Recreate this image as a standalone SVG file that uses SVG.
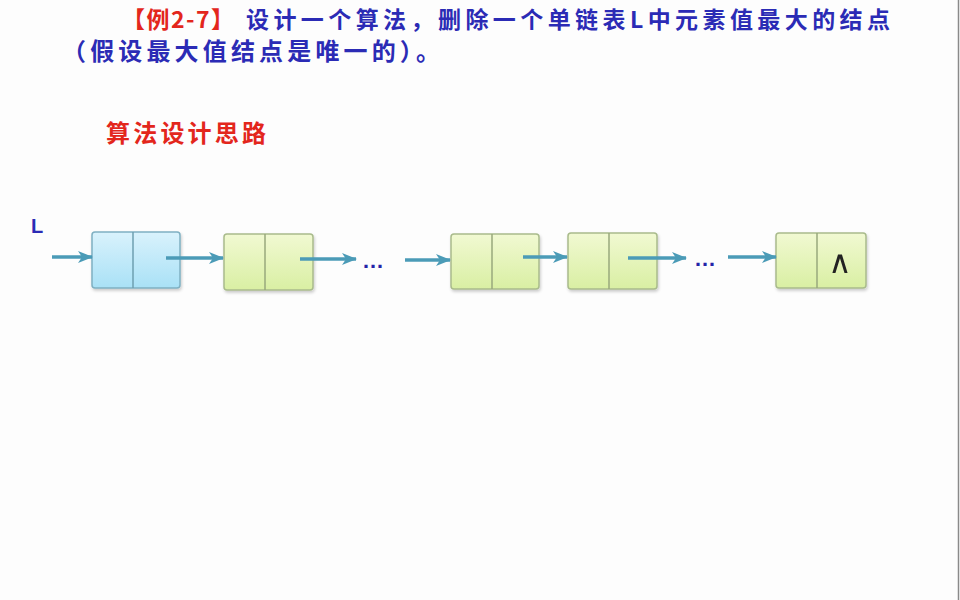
<svg xmlns="http://www.w3.org/2000/svg" width="960" height="600" viewBox="0 0 960 600">
<style>
.t{font-family:"Noto Sans CJK SC","Liberation Sans",sans-serif;font-weight:700;font-size:24px}
.t1{font-size:23px}
.blue{fill:#2b2bb5}
.red{fill:#e3261c}
.node rect.box{stroke-width:1.5}
.bl rect.box{fill:url(#gb);stroke:#7fb0c2}
.gr rect.box{fill:url(#gg);stroke:#a9bb8c}
.bl line{stroke:#6e9fb0;stroke-width:1.5}
.gr line{stroke:#98a97c;stroke-width:1.5}
.arr{stroke:#4b9bb7;stroke-width:3.5;fill:none;marker-end:url(#ah)}
.dots{font-family:"Liberation Sans",sans-serif;font-weight:700;font-size:22px;fill:#2424a8}
</style>
<defs>
<linearGradient id="gb" x1="0" y1="0" x2="0" y2="1">
<stop offset="0" stop-color="#d9f2fc"/><stop offset="1" stop-color="#a9e1f6"/>
</linearGradient>
<linearGradient id="gg" x1="0" y1="0" x2="0" y2="1">
<stop offset="0" stop-color="#f1f9d2"/><stop offset="1" stop-color="#d9efa3"/>
</linearGradient>
<filter id="sh" x="-10%" y="-10%" width="130%" height="140%">
<feDropShadow dx="1" dy="2" stdDeviation="1.5" flood-color="#000" flood-opacity="0.2"/>
</filter>
<marker id="ah" viewBox="0 0 15 12" refX="14" refY="6" markerWidth="15" markerHeight="12" markerUnits="userSpaceOnUse" orient="auto">
<path d="M0,0 L15,6 L0,12 L4,6 Z" fill="#4b9bb7"/>
</marker>
</defs>
<rect width="960" height="600" fill="#fdfdfd"/>
<line x1="958.5" y1="0" x2="958.5" y2="600" stroke="#8a8a8a" stroke-width="1.5"/>

<g id="title">
<text class="t t1 red" x="122" y="28" textLength="112">【例2-7】</text>
<text class="t t1 blue" x="246" y="28" textLength="644">设计一个算法，删除一个单链表L中元素值最大的结点</text>
<text class="t blue" x="62" y="60" textLength="378">（假设最大值结点是唯一的）。</text>
</g>
<g id="subtitle">
<text class="t red" x="106" y="142" textLength="160">算法设计思路</text>
</g>
<g id="label-L">
<text x="31" y="233" font-family="Liberation Sans, sans-serif" font-weight="700" font-size="20" fill="#2b2bb5">L</text>
</g>

<g id="node1" class="node bl" filter="url(#sh)">
<rect class="box" x="92" y="232" width="88" height="56" rx="3"/>
<line x1="133" y1="232" x2="133" y2="288"/>
</g>
<g id="node2" class="node gr" filter="url(#sh)">
<rect class="box" x="224" y="234" width="89" height="56" rx="3"/>
<line x1="265" y1="234" x2="265" y2="290"/>
</g>
<g id="node3" class="node gr" filter="url(#sh)">
<rect class="box" x="451" y="234" width="88" height="55" rx="3"/>
<line x1="492" y1="234" x2="492" y2="289"/>
</g>
<g id="node4" class="node gr" filter="url(#sh)">
<rect class="box" x="568" y="233" width="89" height="56" rx="3"/>
<line x1="609" y1="233" x2="609" y2="289"/>
</g>
<g id="node5" class="node gr" filter="url(#sh)">
<rect class="box" x="776" y="233" width="90" height="55" rx="3"/>
<line x1="817" y1="233" x2="817" y2="288"/>
<text x="840" y="273" text-anchor="middle" font-family="DejaVu Sans, sans-serif" font-size="32" fill="#222">∧</text>
</g>

<g id="connectors">
<line class="arr" x1="52" y1="257" x2="92" y2="257"/>
<line class="arr" x1="166" y1="258" x2="223" y2="258"/>
<line class="arr" x1="300" y1="259" x2="356" y2="259"/>
<text class="dots" x="362" y="268">…</text>
<line class="arr" x1="405" y1="260" x2="450" y2="260"/>
<line class="arr" x1="523" y1="257" x2="567" y2="257"/>
<line class="arr" x1="628" y1="258" x2="686" y2="258"/>
<text class="dots" x="694" y="266">…</text>
<line class="arr" x1="728" y1="257" x2="776" y2="257"/>
</g>
</svg>
